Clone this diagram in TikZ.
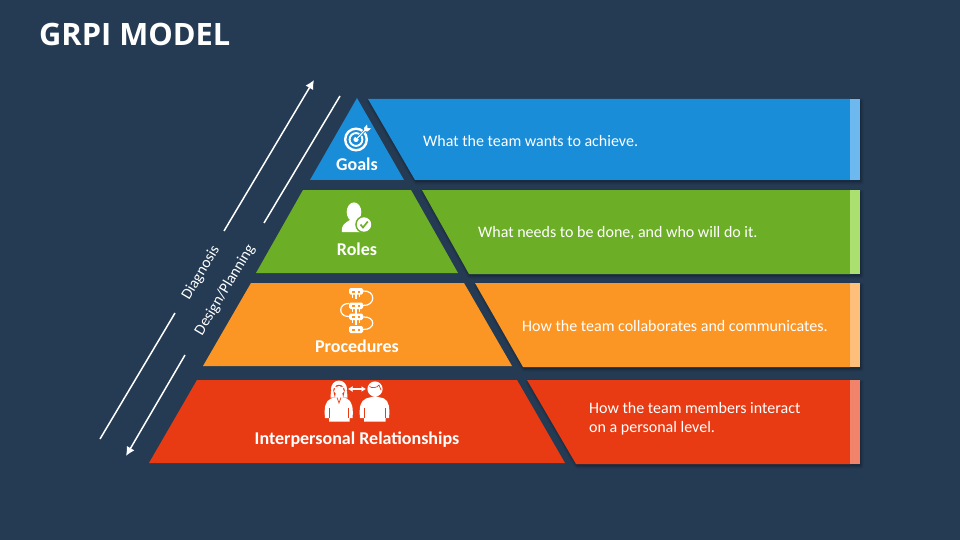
\documentclass[tikz,border=0pt]{standalone}
\usepackage{fontspec}
\setmainfont{Open Sans}
\newfontfamily\carl{Carlito}
\usetikzlibrary{arrows.meta}
\definecolor{bgc}{HTML}{253B54}
\definecolor{shc}{HTML}{14202E}
\definecolor{cblue}{HTML}{1A8DD8}
\definecolor{cgreen}{HTML}{6CAF26}
\definecolor{corange}{HTML}{FB9624}
\definecolor{cred}{HTML}{E93B13}
\definecolor{ablue}{HTML}{6DB8EE}
\definecolor{agreen}{HTML}{ABDF70}
\definecolor{aorange}{HTML}{FDBF7A}
\definecolor{ared}{HTML}{F0836A}
\tikzset{
  x=1pt,y=-1pt,
  shadowa/.style={draw=shc,fill=shc,line join=round,draw opacity=.16,fill opacity=.16,line width=5pt,xshift=1pt,yshift=-2pt},
  shadowb/.style={draw=shc,fill=shc,line join=round,draw opacity=.22,fill opacity=.22,line width=2.5pt,xshift=1pt,yshift=-2pt},
  flow/.style={draw=white,line width=1.5pt},
  tipped/.style={flow,-{Latex[length=9pt,width=9pt]}},
  title/.style={text=white,font=\bfseries\fontsize{30.8}{34}\selectfont,anchor=west,inner sep=0pt},
  level/.style={text=white,font=\carl\bfseries\fontsize{18}{20}\selectfont,inner sep=0pt},
  desc/.style={text=white,font=\carl\fontsize{16}{19}\selectfont,anchor=west,inner sep=0pt,align=left},
  side/.style={text=white,font=\carl\fontsize{15.5}{16}\selectfont,rotate=59,inner sep=0pt},
  ring/.style={draw=white,fill=none},
}
\begin{document}
\begin{tikzpicture}
\useasboundingbox (0,0) rectangle (960,540);
\fill[bgc] (0,0) rectangle (960,540);
\node[title] (ttl) at (39,34.5) {GRPI MODEL};

% band shadows
\foreach \st in {shadowa,shadowb}{
  \path[\st] (368,99) -- (860,99) -- (860,180) -- (415,180) -- cycle;
  \path[\st] (422,190) -- (860,190) -- (860,274) -- (469,274) -- cycle;
  \path[\st] (475,283) -- (860,283) -- (860,367) -- (523,367) -- cycle;
  \path[\st] (527,380) -- (860,380) -- (860,464) -- (576,464) -- cycle;
}
% bands
\fill[cblue] (368,99) -- (850,99) -- (850,180) -- (415,180) -- cycle;
\fill[ablue] (850,99) rectangle (860,180);
\fill[cgreen] (422,190) -- (850,190) -- (850,274) -- (469,274) -- cycle;
\fill[agreen] (850,190) rectangle (860,274);
\fill[corange] (475,283) -- (850,283) -- (850,367) -- (523,367) -- cycle;
\fill[aorange] (850,283) rectangle (860,367);
\fill[cred] (527,380) -- (850,380) -- (850,464) -- (576,464) -- cycle;
\fill[ared] (850,380) rectangle (860,464);
% pyramid
\fill[cblue] (357,98) -- (404,180) -- (310,180) -- cycle;
\fill[cgreen] (303,190) -- (411,190) -- (458,273) -- (256,273) -- cycle;
\fill[corange] (251,283) -- (464,283) -- (512,366) -- (203,366) -- cycle;
\fill[cred] (197,380) -- (517,380) -- (565,463) -- (149,463) -- cycle;

% side arrows
\coordinate (da) at (224,231); \coordinate (db) at (314,80);
\coordinate (dc) at (175,313); \coordinate (dd) at (100,439);
\coordinate (pa) at (264,223); \coordinate (pb) at (340,96);
\coordinate (pc) at (185,355); \coordinate (pd) at (126,456);
\draw[tipped] (da) -- (db);
\draw[flow] (dc) -- (dd);
\draw[flow] (pa) -- (pb);
\draw[tipped] (pc) -- (pd);
\node[side] (diag) at (201,273) {Diagnosis};
\node[side] (plan) at (225,290) {Design/Planning};

% labels
\node[level] (goals) at (357,164.5) {Goals};
\node[level] (roles) at (357,249) {Roles};
\node[level] (proc) at (357,346.5) {Procedures};
\node[level] (inter) at (357,439.5) {Interpersonal Relationships};
\node[desc] (t1) at (423,141) {What the team wants to achieve.};
\node[desc] (t2) at (478,233) {What needs to be done, and who will do it.};
\node[desc] (t3) at (522,326) {How the team collaborates and communicates.};
\node[desc] (t4) at (589,419) {How the team members interact\\on a personal level.};

% target icon
\draw[ring,line width=2.4pt] (356,139.5) circle (10.8);
\draw[ring,line width=1.9pt] (356,139.5) circle (6.4);
\fill[white] (356,139.5) circle (2.6);
\draw[cblue,line width=2.6pt] (357,138.5) -- (367,128);
\draw[white,line width=1.1pt] (356.5,139) -- (366,129);
\fill[white] (364,128) -- (367,124.5) -- (367.5,128) -- (371,128.5) -- (367.5,131.5) -- (364.5,131) -- cycle;

% person with check icon
\fill[white] (354,212) ellipse (7.3 and 9.6);
\fill[white] (342,232) .. controls (341,225) and (345,223) .. (350,220) -- (358,220)
  .. controls (362,222) and (366,224) .. (367,232) -- cycle;
\fill[cgreen] (364,224.5) circle (8.8);
\fill[white] (364,224.5) circle (7.2);
\draw[cgreen,line width=1.7pt] (360.5,224.5) -- (363,227.5) -- (367.8,221.5);

% procedures icon
\foreach \yy in {288,302.5,313.5}{
  \fill[white,rounded corners=1.5pt] (349,\yy) rectangle (363,\yy+6.5);
  \fill[white] (352,\yy+6) rectangle (353.3,\yy+9.5);
  \fill[white] (355.2,\yy+6) rectangle (356.6,\yy+11);
  \fill[white] (358.5,\yy+6) rectangle (359.8,\yy+9);
  \fill[corange] (352,\yy+2.5) rectangle (354.5,\yy+4.5);
  \fill[corange] (357.5,\yy+2.5) rectangle (360,\yy+4.5);
}
\fill[white,rounded corners=1.5pt] (349,326) rectangle (363,333);
\fill[corange] (352,328.5) rectangle (354.5,330.5);
\fill[corange] (357.5,328.5) rectangle (360,330.5);
\draw[white,line width=1.2pt] (363,291) .. controls (376,290) and (376,306) .. (363,305.5);
\draw[white,line width=1.2pt] (349,303.5) .. controls (338,303) and (338,317) .. (349,316.5);
\draw[white,line width=1.2pt] (363,317) .. controls (376,316) and (376,330) .. (363,329.5);

% people icon: woman
\fill[white] (339,389) ellipse (8 and 8.4);
\fill[cred] (339,391) ellipse (5.8 and 6.2);
\fill[white] (339,391.5) ellipse (5 and 5.6);
\fill[white] (333,384.5) .. controls (336,388.5) and (342,388) .. (345.5,385) -- (345.5,388) -- (333,388) -- cycle;
\fill[white] (331,391) -- (347,391) -- (347.5,397.5) -- (330.5,397.5) -- cycle;
\fill[cred] (333.4,391) -- (334.8,397.5) -- (335.6,393.5) -- cycle;
\fill[cred] (344.6,391) -- (343.2,397.5) -- (342.4,393.5) -- cycle;
\fill[white] (325,418) .. controls (324,408) and (325,401) .. (331,398.5) -- (339,396.5) -- (347,398.5)
  .. controls (352,401) and (353.5,408) .. (352.5,418) -- (349.5,418) -- (349.5,421.7) -- (329,421.7) -- (329,418) -- cycle;
\draw[cred,line width=.6pt] (329.5,408) -- (329.5,418);
\draw[cred,line width=.6pt] (348.5,408) -- (348.5,418);
\draw[cred,line width=.7pt] (337,397.5) -- (339,403) -- (341,397.5);
% man
\fill[white] (375,389) circle (7.6);
\draw[cred,line width=.7pt] (369.5,386.5) .. controls (372,388.5) and (377,388) .. (379,385) .. controls (380,387) and (380.5,388) .. (381,390);
\fill[white] (360,418) .. controls (359,408) and (360,401) .. (366,398.5) -- (375,396) -- (384,398.5)
  .. controls (389,401) and (390,408) .. (389,418) -- (385.5,418) -- (385.5,421.7) -- (364,421.7) -- (364,418) -- cycle;
\draw[cred,line width=.6pt] (364.5,408) -- (364.5,418);
\draw[cred,line width=.6pt] (385,408) -- (385,418);
\draw[white,line width=1.2pt,{Latex[length=4.5pt,width=6pt]}-{Latex[length=4.5pt,width=6pt]}] (348,389) -- (366,389);
\end{tikzpicture}
\end{document}
